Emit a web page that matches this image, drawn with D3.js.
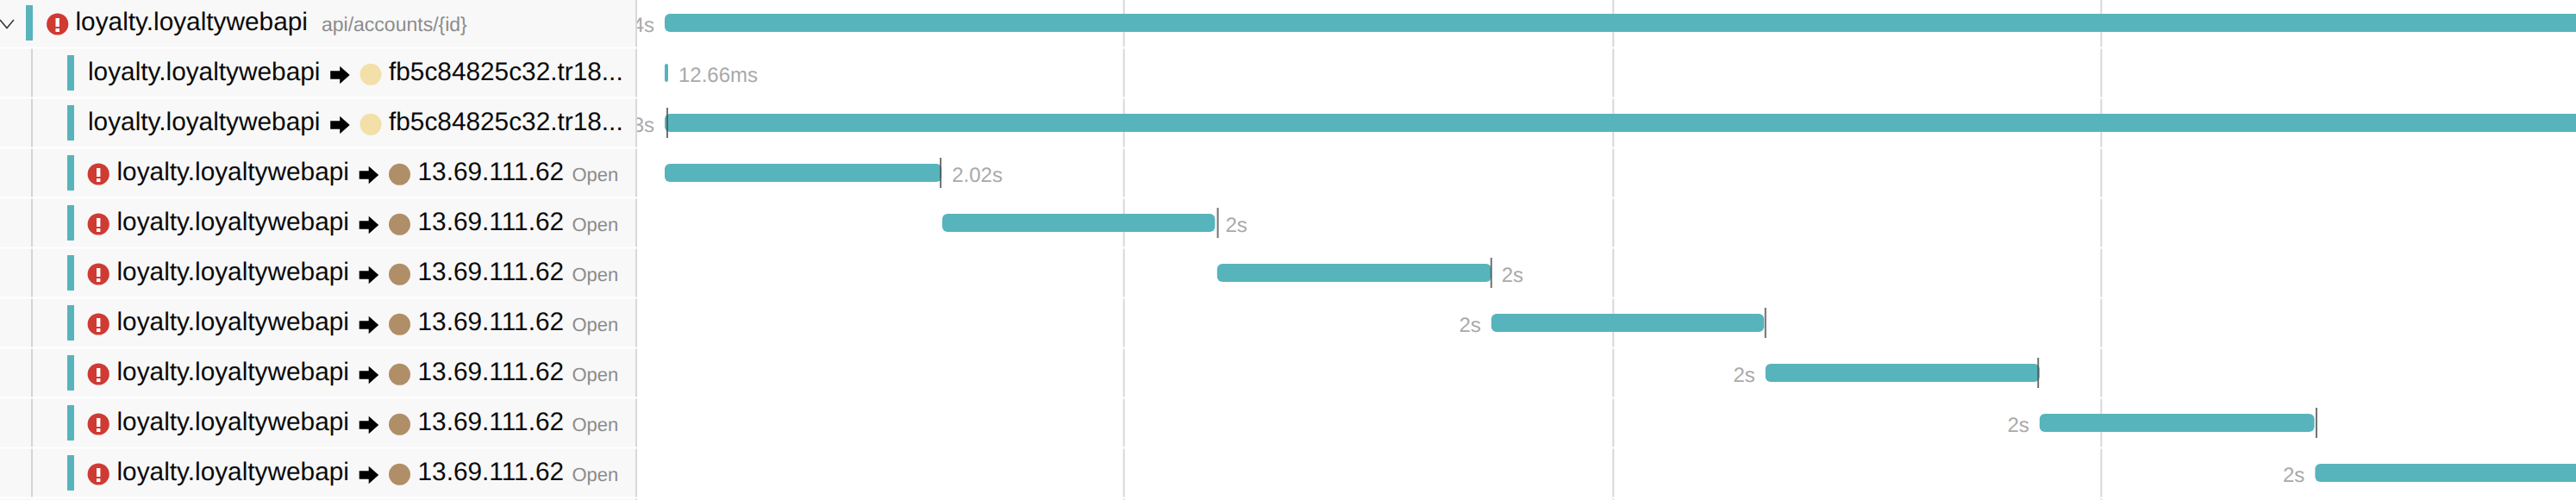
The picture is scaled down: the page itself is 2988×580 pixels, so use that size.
<!DOCTYPE html>
<html>
<head>
<meta charset="utf-8">
<script src="https://cdn.jsdelivr.net/npm/d3@7"></script>
<style>
  html, body { margin: 0; padding: 0; background: #fff; overflow: hidden; }
  svg { display: block; }
  text { font-family: "Liberation Sans", Arial, sans-serif; text-rendering: geometricPrecision; }
</style>
</head>
<body>
<div id="vis"></div>
<script>
// Data ----------------------------------------------------------------------------------------------------------------
const services = ["loyalty.loyaltywebapi", "loyalty.loyaltywebapi", "loyalty.loyaltywebapi", "loyalty.loyaltywebapi",
  "loyalty.loyaltywebapi", "loyalty.loyaltywebapi", "loyalty.loyaltywebapi", "loyalty.loyaltywebapi",
  "loyalty.loyaltywebapi", "loyalty.loyaltywebapi"];
const targets = [null, "fb5c84825c32.tr18...", "fb5c84825c32.tr18...", "13.69.111.62", "13.69.111.62", "13.69.111.62",
  "13.69.111.62", "13.69.111.62", "13.69.111.62", "13.69.111.62"];
const notes = ["api/accounts/{id}", null, null, "Open", "Open", "Open", "Open", "Open", "Open", "Open"];
const hasError = [true, false, false, true, true, true, true, true, true, true];

// seconds from the start of the trace
const starts = [0, 0, 0, 0, 2.025, 4.03, 6.03, 8.03, 10.03, 12.04];
const durations = [14.04, 0.01266, 14.03, 2.02, 1.99, 2, 1.99, 2, 2.005, 2];
// the first two digits of the long spans are hidden behind the left panel in the reference
const labels = ["4s", "12.66ms", "3s", "2.02s", "2s", "2s", "2s", "2s", "2s", "2s"];
const labelSide = ["left", "right", "left", "right", "right", "right", "left", "left", "left", "left"];
const endMarks = [null, null, 0.019, 2.013, 4.035, 6.03, 8.03, 10.02, 12.05, null];
const gridTicks = [3.35, 6.92, 10.48];

// Canvas --------------------------------------------------------------------------------------------------------------
const canvasWidth = 2988;
const canvasHeight = 580;
const panelWidth = 738;
const rowStep = 58;

const teal = "#57b4bc";
const red = "#cf3a33";
const beige = "#f3dfa8";
const brown = "#b08e68";

const svg = d3.select("#vis")
  .append("svg")
  .attr("width", canvasWidth)
  .attr("height", canvasHeight)
  .attr("viewBox", [0, 0, canvasWidth, canvasHeight]);

const xScale = d3.scaleLinear()
  .domain([0, 14])
  .range([771, 771 + 14 * 159]);
const yScale = d3.scaleLinear()
  .domain([0, 9])
  .range([26.5, 26.5 + 9 * rowStep]);

const rows = d3.range(services.length);

// Timeline ------------------------------------------------------------------------------------------------------------
svg.selectAll(".grid")
  .data(gridTicks)
  .join("line")
  .attr("class", "grid")
  .attr("x1", d => xScale(d))
  .attr("x2", d => xScale(d))
  .attr("y1", 0)
  .attr("y2", canvasHeight)
  .attr("stroke", "#d8d8d8")
  .attr("stroke-width", 2);

svg.selectAll(".bar")
  .data(rows)
  .join("rect")
  .attr("class", "bar")
  .attr("x", i => xScale(starts[i]))
  .attr("y", i => yScale(i) - 10.5)
  .attr("width", i => Math.max(xScale(starts[i] + durations[i]) - xScale(starts[i]), 4))
  .attr("height", 21)
  .attr("rx", i => i == 1 ? 2 : 6)
  .attr("fill", teal);

svg.selectAll(".end-mark")
  .data(rows.filter(i => endMarks[i] !== null))
  .join("line")
  .attr("class", "end-mark")
  .attr("x1", i => xScale(endMarks[i]))
  .attr("x2", i => xScale(endMarks[i]))
  .attr("y1", i => yScale(i) - 17.5)
  .attr("y2", i => yScale(i) + 17.5)
  .attr("stroke", "#4d4d4d")
  .attr("stroke-opacity", 0.8)
  .attr("stroke-width", 2);

svg.selectAll(".duration")
  .data(rows)
  .join("text")
  .attr("class", "duration")
  .attr("x", i => labelSide[i] == "left"
    ? xScale(starts[i]) - 12
    : Math.max(xScale(starts[i] + durations[i]), xScale(starts[i]) + 4) + 12)
  .attr("y", i => yScale(i) + 10)
  .attr("text-anchor", i => labelSide[i] == "left" ? "end" : "start")
  .attr("font-size", 24)
  .attr("fill", "#a9a9a9")
  .text(i => labels[i]);

// Left panel ----------------------------------------------------------------------------------------------------------
svg.append("rect")
  .attr("width", panelWidth)
  .attr("height", canvasHeight)
  .attr("fill", "#f8f8f8");
svg.append("line")
  .attr("x1", panelWidth)
  .attr("x2", panelWidth)
  .attr("y1", 0)
  .attr("y2", canvasHeight)
  .attr("stroke", "#d8d8d8")
  .attr("stroke-width", 2);

svg.append("line")
  .attr("x1", 37)
  .attr("x2", 37)
  .attr("y1", yScale(0) + 29)
  .attr("y2", yScale(9) + 29)
  .attr("stroke", "#d4d4d4")
  .attr("stroke-width", 2);

// root row chevron
const chevron = d3.line();
svg.append("path")
  .attr("d", chevron([[0, 23], [8, 32.5], [16, 23]]))
  .attr("fill", "none")
  .attr("stroke", "#333")
  .attr("stroke-width", 1.5);

// row separators cut through everything
svg.selectAll(".sep")
  .data(rows)
  .join("rect")
  .attr("class", "sep")
  .attr("x", 0)
  .attr("y", i => yScale(i) + 28)
  .attr("width", canvasWidth)
  .attr("height", 2)
  .attr("fill", "#fff");

const rowGroup = svg.selectAll(".row")
  .data(rows)
  .join("g")
  .attr("class", "row")
  .attr("transform", i => "translate(0," + yScale(i) + ")");

rowGroup.append("rect")
  .attr("x", i => i == 0 ? 30 : 78)
  .attr("y", -20.5)
  .attr("width", 8)
  .attr("height", 41)
  .attr("fill", teal);

// red error badge
const errorBadge = rowGroup.filter(i => hasError[i])
  .append("g")
  .attr("transform", i => "translate(" + (i == 0 ? 66.7 : 114.2) + ",1.5)");
errorBadge.append("circle")
  .attr("r", 12.6)
  .attr("fill", red);
errorBadge.append("rect")
  .attr("x", -2.2)
  .attr("y", -7)
  .attr("width", 4.4)
  .attr("height", 10)
  .attr("fill", "#fff");
errorBadge.append("rect")
  .attr("x", -2.2)
  .attr("y", 5)
  .attr("width", 4.4)
  .attr("height", 4)
  .attr("fill", "#fff");

const nameX = i => i == 0 ? 87.5 : (hasError[i] ? 135.5 : 102);

rowGroup.append("text")
  .attr("x", nameX)
  .attr("y", 8.8)
  .attr("font-size", 29.8)
  .attr("fill", "#0a0a0a")
  .text(i => services[i]);

// arrow and destination
const peers = rowGroup.filter(i => targets[i] !== null);
peers.append("path")
  .attr("transform", i => "translate(" + (nameX(i) + 281.2) + ",2.5)")
  .attr("d", d3.line()([[0, -4.7], [11, -4.7], [11, -10.3], [22.5, 0], [11, 10.3], [11, 4.7], [0, 4.7]]) + "Z")
  .attr("fill", "#000");
peers.append("circle")
  .attr("cx", i => nameX(i) + 328)
  .attr("cy", 1.8)
  .attr("r", 12.5)
  .attr("fill", i => hasError[i] ? brown : beige);
peers.append("text")
  .attr("x", i => nameX(i) + 349)
  .attr("y", 8.8)
  .attr("font-size", 29.8)
  .attr("fill", "#0a0a0a")
  .text(i => targets[i]);

rowGroup.filter(i => notes[i] !== null)
  .append("text")
  .attr("x", i => i == 0 ? 373 : 663.5)
  .attr("y", i => i == 0 ? 9 : 9.5)
  .attr("font-size", i => i == 0 ? 23 : 22)
  .attr("fill", "#8c8c8c")
  .text(i => notes[i]);
</script>
</body>
</html>
